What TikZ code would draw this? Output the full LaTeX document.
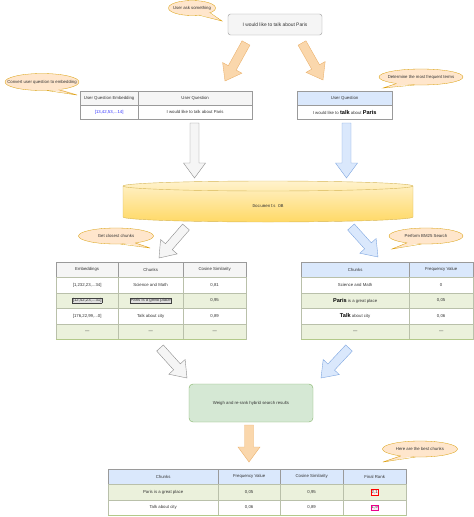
\documentclass[tikz,border=0pt]{standalone}
\usepackage{fontspec}
\setmainfont{Liberation Sans}
\setmonofont{Liberation Mono}
\usetikzlibrary{calc,shapes.geometric}

\definecolor{textgray}{HTML}{333333}
\definecolor{boxline}{HTML}{9A9A9A}
\definecolor{gridline}{HTML}{B9C0AA}
\definecolor{hdrgray}{HTML}{F5F5F5}
\definecolor{hdrblue}{HTML}{DAE8FC}
\definecolor{rowgreen}{HTML}{EBF1DC}
\definecolor{edgegreen}{HTML}{B3C98A}
\definecolor{notefill}{HTML}{FFE6CC}
\definecolor{noteline}{HTML}{D79B00}
\definecolor{orangefill}{HTML}{FAD7AC}
\definecolor{orangeline}{HTML}{EBB26E}
\definecolor{grayline}{HTML}{8C8C8C}
\definecolor{blueline}{HTML}{7EA6E0}
\definecolor{greenfill}{HTML}{D5E8D4}
\definecolor{greenline}{HTML}{82B366}
\definecolor{dbtop}{HTML}{FFF2CC}
\definecolor{dbbottom}{HTML}{FFD966}
\definecolor{dbline}{HTML}{D6B656}
\definecolor{embblue}{HTML}{3333FF}

\newcommand{\smallfont}{\fontsize{4.3}{5}\selectfont}
\newcommand{\askfont}{\fontsize{4.9}{5.5}\selectfont}
\newcommand{\bigword}[1]{{\fontsize{5.6}{5}\selectfont\bfseries\color{black}#1}}
\newcommand{\hlbox}[1]{{\setlength{\fboxsep}{0.5pt}\setlength{\fboxrule}{0.3pt}\fcolorbox{darkgray}{black!12}{#1}}}
\newcommand{\rankmark}[2]{{\setlength{\fboxsep}{0.7pt}\setlength{\fboxrule}{0.35pt}\fcolorbox{#1}{#1!8}{#2}}}

% block arrow between two named coordinates
\newcommand{\blockarrow}[3]{%
  \coordinate (hb) at ($(#2)!15pt!(#1)$);
  \draw[#3] ($(#1)!4.5pt!90:(#2)$) -- ($(hb)!4.5pt!90:(#2)$) -- ($(hb)!11pt!90:(#2)$) -- (#2)
    -- ($(hb)!11pt!-90:(#2)$) -- ($(hb)!4.5pt!-90:(#2)$) -- ($(#1)!4.5pt!-90:(#2)$) -- cycle;}

% tail of a speech bubble
\newcommand{\notetail}[4]{%
  \filldraw[fill=notefill, draw=notefill, line width=0.8pt, line join=round]
    ($(#1.center)!0.75!(#1.#3)$) -- (#2) -- ($(#1.center)!0.75!(#1.#4)$) -- cycle;
  \draw[noteline, line width=0.3pt] (#1.#3) -- (#2) -- (#1.#4);}

\begin{document}
\begin{tikzpicture}[x=1pt, y=-1pt,
		every node/.style={font=\smallfont, text=textgray},
		note/.style={ellipse, draw=noteline, fill=notefill, line width=0.3pt, inner sep=0},
		askbox/.style={draw=boxline, fill=hdrgray, rounded corners=2.5pt, line width=0.4pt, minimum width=94, minimum height=21, font=\askfont},
		rankbox/.style={draw=greenline, fill=greenfill, rounded corners=4pt, line width=0.4pt, minimum width=124, minimum height=38},
		cell/.style={draw=gridline, line width=0.3pt, anchor=north west, inner sep=0, minimum height=15.4},
		qcell/.style={draw=boxline, line width=0.3pt, anchor=north west, inner sep=0, minimum height=14},
		tableedge/.style={draw=edgegreen, line width=0.8pt},
		orangearrow/.style={fill=orangefill, draw=orangeline, line width=0.4pt},
		grayarrow/.style={fill=hdrgray, draw=grayline, line width=0.4pt},
		bluearrow/.style={fill=hdrblue, draw=blueline, line width=0.4pt}
		]
		
		\useasboundingbox (0,0) rectangle (474,517);
		
		% The question
		\node[askbox] (ask) at (275,24.5) {I would like to talk about Paris};
		
		\node[note, minimum width=47, minimum height=15] (askNote) at (192,8) {};
		\coordinate (askTip) at (222,21);
		\notetail{askNote}{askTip}{-15}{-45}
		\node (askNoteText) at (askNote) {User ask something};
		
		% Split into both searches
		\coordinate (splitL0) at (246,43);
		\coordinate (splitL1) at (225,81);
		\coordinate (splitR0) at (302,43);
		\coordinate (splitR1) at (323,80);
		\blockarrow{splitL0}{splitL1}{orangearrow}
		\blockarrow{splitR0}{splitR1}{orangearrow}
		
		% Embedding of the question
		\node[note, minimum width=74, minimum height=17] (embNote) at (42,82) {};
		\coordinate (embTip) at (77,95);
		\notetail{embNote}{embTip}{-25}{-60}
		\node (embNoteText) at (embNote) {Convert user question to embedding};
		
		\node[qcell, fill=hdrgray, minimum width=58] (qEmbH) at (80,91) {User Question Embedding};
		\node[qcell, fill=hdrgray, minimum width=114] (qTxtH) at (138,91) {User Question};
		\node[qcell, minimum width=58, text=embblue] (qEmb) at (80,105) {[13,42,53,...14]};
		\node[qcell, minimum width=114] (qTxt) at (138,105) {I would like to talk about Paris};
		
		% Frequent terms of the question
		\node[note, minimum width=84, minimum height=16] (frqNote) at (421,77) {};
		\coordinate (frqTip) at (383,88);
		\notetail{frqNote}{frqTip}{-130}{-165}
		\node (frqNoteText) at (frqNote) {Determine the most frequent terms};
		
		\node[qcell, fill=hdrblue, minimum width=95] (fqH) at (297,91) {User Question};
		\node[qcell, minimum width=95] (fq) at (297,105) {I would like to \bigword{talk} about \bigword{Paris}};
		
		% Down to the database
		\coordinate (qDown0) at (194.5,123);
		\coordinate (qDown1) at (194.5,178);
		\coordinate (fDown0) at (346.5,123);
		\coordinate (fDown1) at (346.5,178);
		\blockarrow{qDown0}{qDown1}{grayarrow}
		\blockarrow{fDown0}{fDown1}{bluearrow}
		
		% Documents DB
		\draw[draw=dbline, top color=dbtop, bottom color=dbbottom, line width=0.4pt]
			(123,186) -- (123,217) arc[start angle=180, end angle=360, x radius=145pt, y radius=5pt]
			-- (413,186) arc[start angle=0, end angle=180, x radius=145pt, y radius=5pt] -- cycle;
		\draw[draw=dbline, line width=0.4pt] (123,186) arc[start angle=180, end angle=360, x radius=145pt, y radius=5pt];
		\node[font=\ttfamily\smallfont] (db) at (268,206) {Documents DB};
		
		% Out of the database
		\coordinate (embDiag0) at (186,227);
		\coordinate (embDiag1) at (159,258);
		\coordinate (bmDiag0) at (351,227);
		\coordinate (bmDiag1) at (378,257);
		\blockarrow{embDiag0}{embDiag1}{grayarrow}
		\blockarrow{bmDiag0}{bmDiag1}{bluearrow}
		
		\node[note, minimum width=75, minimum height=16] (closeNote) at (116,236) {};
		\coordinate (closeTip) at (150,248);
		\notetail{closeNote}{closeTip}{-20}{-60}
		\node (closeNoteText) at (closeNote) {Get closest chunks};
		
		\node[note, minimum width=74, minimum height=16] (bmNote) at (426,236) {};
		\coordinate (bmTip) at (392,249);
		\notetail{bmNote}{bmTip}{-120}{-160}
		\node (bmNoteText) at (bmNote) {Perform BM25 Search};
		
		% Vector search results
		\node[cell, draw=boxline, fill=hdrgray, minimum width=62] (embH) at (56,262) {Embeddings};
		\node[cell, draw=boxline, fill=hdrgray, minimum width=65] (chkH) at (118,262) {Chunks};
		\node[cell, draw=boxline, fill=hdrgray, minimum width=63] (cosH) at (183,262) {Cosine Similarity};
		\node[cell, minimum width=62] (emb1) at (56,277.4) {[1,232,23,...34]};
		\node[cell, minimum width=65] (chk1) at (118,277.4) {Science and Math};
		\node[cell, minimum width=63] (cos1) at (183,277.4) {0,81};
		\node[cell, fill=rowgreen, minimum width=62] (emb2) at (56,292.8) {\hlbox{[12,42,23,...31]}};
		\node[cell, fill=rowgreen, minimum width=65] (chk2) at (118,292.8) {\hlbox{Paris is a great place}};
		\node[cell, fill=rowgreen, minimum width=63] (cos2) at (183,292.8) {0,95};
		\node[cell, minimum width=62] (emb3) at (56,308.2) {[176,22,99,...0]};
		\node[cell, minimum width=65] (chk3) at (118,308.2) {Talk about city};
		\node[cell, minimum width=63] (cos3) at (183,308.2) {0,89};
		\node[cell, fill=rowgreen, minimum width=62] (emb4) at (56,323.6) {—};
		\node[cell, fill=rowgreen, minimum width=65] (chk4) at (118,323.6) {—};
		\node[cell, fill=rowgreen, minimum width=63] (cos4) at (183,323.6) {—};
		\draw[tableedge] (emb4.south west) -- (cos4.south east);
		
		% BM25 search results
		\node[cell, draw=boxline, fill=hdrblue, minimum width=108] (bmChkH) at (301,262) {Chunks};
		\node[cell, draw=boxline, fill=hdrblue, minimum width=64] (bmFrqH) at (409,262) {Frequency Value};
		\node[cell, minimum width=108] (bmChk1) at (301,277.4) {Science and Math};
		\node[cell, minimum width=64] (bmFrq1) at (409,277.4) {0};
		\node[cell, fill=rowgreen, minimum width=108] (bmChk2) at (301,292.8) {\bigword{Paris} is a great place};
		\node[cell, fill=rowgreen, minimum width=64] (bmFrq2) at (409,292.8) {0,05};
		\node[cell, minimum width=108] (bmChk3) at (301,308.2) {\bigword{Talk} about city};
		\node[cell, minimum width=64] (bmFrq3) at (409,308.2) {0,06};
		\node[cell, fill=rowgreen, minimum width=108] (bmChk4) at (301,323.6) {—};
		\node[cell, fill=rowgreen, minimum width=64] (bmFrq4) at (409,323.6) {—};
		\draw[tableedge] (bmChk4.south west) -- (bmFrq4.south east);
		
		% Merge both results
		\coordinate (embMerge0) at (160,348);
		\coordinate (embMerge1) at (187,378);
		\coordinate (bmMerge0) at (349,348);
		\coordinate (bmMerge1) at (321,378);
		\blockarrow{embMerge0}{embMerge1}{grayarrow}
		\blockarrow{bmMerge0}{bmMerge1}{bluearrow}
		
		\node[rankbox] (rerank) at (251,403) {Weigh and re-rank hybrid search results};
		
		\coordinate (rank0) at (249,425);
		\coordinate (rank1) at (249,462);
		\blockarrow{rank0}{rank1}{orangearrow}
		
		\node[note, minimum width=75, minimum height=16] (bestNote) at (420,449) {};
		\coordinate (bestTip) at (383,462);
		\notetail{bestNote}{bestTip}{-120}{-160}
		\node (bestNoteText) at (bestNote) {Here are the best chunks};
		
		% Final ranking
		\node[cell, draw=boxline, fill=hdrblue, minimum width=110, minimum height=15.3] (rkChkH) at (108,469) {Chunks};
		\node[cell, draw=boxline, fill=hdrblue, minimum width=62, minimum height=15.3] (rkFrqH) at (218,469) {Frequency Value};
		\node[cell, draw=boxline, fill=hdrblue, minimum width=63, minimum height=15.3] (rkCosH) at (280,469) {Cosine Similarity};
		\node[cell, draw=boxline, fill=hdrblue, minimum width=63, minimum height=15.3] (rkFinH) at (343,469) {Final Rank};
		\node[cell, fill=rowgreen, minimum width=110, minimum height=15.3] (rkChk1) at (108,484.3) {Paris is a great place};
		\node[cell, fill=rowgreen, minimum width=62, minimum height=15.3] (rkFrq1) at (218,484.3) {0,05};
		\node[cell, fill=rowgreen, minimum width=63, minimum height=15.3] (rkCos1) at (280,484.3) {0,95};
		\node[cell, fill=rowgreen, minimum width=63, minimum height=15.3] (rkFin1) at (343,484.3) {\rankmark{red}{2,1}};
		\node[cell, minimum width=110, minimum height=15.3] (rkChk2) at (108,499.6) {Talk about city};
		\node[cell, minimum width=62, minimum height=15.3] (rkFrq2) at (218,499.6) {0,06};
		\node[cell, minimum width=63, minimum height=15.3] (rkCos2) at (280,499.6) {0,89};
		\node[cell, minimum width=63, minimum height=15.3] (rkFin2) at (343,499.6) {\rankmark{magenta}{1,9}};
		\draw[tableedge] (rkChk2.south west) -- (rkFin2.south east);
		
	\end{tikzpicture}
\end{document}
